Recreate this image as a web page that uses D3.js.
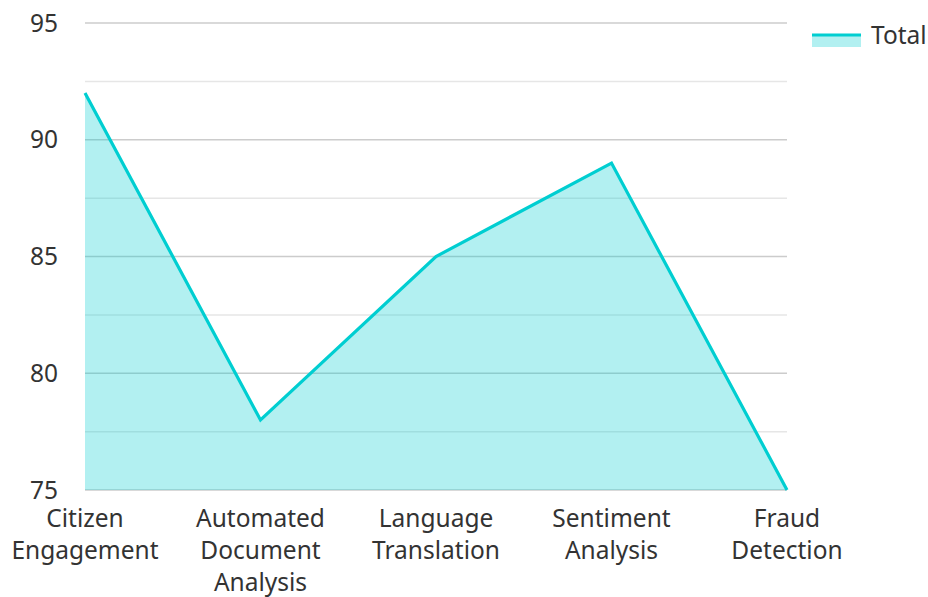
<!DOCTYPE html>
<html>
<head>
<meta charset="utf-8">
<script src="https://cdn.jsdelivr.net/npm/d3@7"></script>
<style>
  body { margin: 0; background: #fff; }
  text { font-family: "Noto Sans", "Open Sans", sans-serif; fill: #333; }
</style>
</head>
<body>
<script>
let categories = ["Citizen Engagement", "Automated Document Analysis", "Language Translation", "Sentiment Analysis", "Fraud Detection"];
let totals = [92, 78, 85, 89, 75];
let yTicks = [75, 80, 85, 90, 95];
let yMinor = [77.5, 82.5, 87.5, 92.5];
let seriesName = "Total";

let width = 928, height = 597;
let margin = {left: 85, right: 141, top: 23, bottom: 107};
let color = "#00ced1";
let fontSize = 24.5;

let svg = d3.select("body").append("svg").attr("width", width).attr("height", height)

let x = d3.scalePoint().domain(categories).range([margin.left, width - margin.right])
let y = d3.scaleLinear().domain([75, 95]).range([height - margin.bottom, margin.top])

// gridlines
svg.append("g").selectAll("line")
    .data(yMinor)
    .enter().append("line")
      .attr("x1", margin.left).attr("x2", width - margin.right)
      .attr("y1", d => y(d)).attr("y2", d => y(d))
      .attr("stroke", "#e6e6e6").attr("stroke-width", 1.5)

svg.append("g").selectAll("line")
    .data(yTicks)
    .enter().append("line")
      .attr("x1", margin.left).attr("x2", width - margin.right)
      .attr("y1", d => y(d)).attr("y2", d => y(d))
      .attr("stroke", "#cccccc").attr("stroke-width", 1.5)

// y labels
svg.append("g").selectAll("text")
    .data(yTicks)
    .enter().append("text")
      .attr("x", margin.left - 27)
      .attr("y", d => y(d) + 2)
      .attr("text-anchor", "end")
      .attr("dominant-baseline", "middle")
      .attr("font-size", fontSize)
      .text(d => d)

// area + line
let pts = categories.map((c, i) => [c, totals[i]])
let area = d3.area().x(d => x(d[0])).y0(y(75)).y1(d => y(d[1]))
let line = d3.line().x(d => x(d[0])).y(d => y(d[1]))

svg.append("path").attr("d", area(pts)).attr("fill", color).attr("fill-opacity", 0.3)
svg.append("path").attr("d", line(pts)).attr("fill", "none").attr("stroke", color).attr("stroke-width", 3.2)

// x labels, wrapped
let wrapped = {
  "Citizen Engagement": ["Citizen", "Engagement"],
  "Automated Document Analysis": ["Automated", "Document", "Analysis"],
  "Language Translation": ["Language", "Translation"],
  "Sentiment Analysis": ["Sentiment", "Analysis"],
  "Fraud Detection": ["Fraud", "Detection"]
}
let xl = svg.append("g").selectAll("text")
    .data(categories)
    .enter().append("text")
      .attr("x", d => x(d))
      .attr("y", 520)
      .attr("text-anchor", "middle")
      .attr("dominant-baseline", "middle")
      .attr("font-size", fontSize)
xl.selectAll("tspan")
    .data(d => wrapped[d])
    .enter().append("tspan")
      .attr("x", function() { return this.parentNode.getAttribute("x") })
      .attr("dy", (d, i) => i === 0 ? 0 : 32)
      .text(d => d)

// legend
let lg = svg.append("g").attr("transform", "translate(812,35)")
lg.append("rect").attr("x", 0).attr("y", 0).attr("width", 49).attr("height", 12)
    .attr("fill", color).attr("fill-opacity", 0.3)
lg.append("line").attr("x1", 0).attr("x2", 49).attr("y1", 0).attr("y2", 0)
    .attr("stroke", color).attr("stroke-width", 3)
lg.append("text").attr("x", 59).attr("y", 2)
    .attr("dominant-baseline", "middle").attr("font-size", fontSize)
    .text(seriesName)
</script>
</body>
</html>
